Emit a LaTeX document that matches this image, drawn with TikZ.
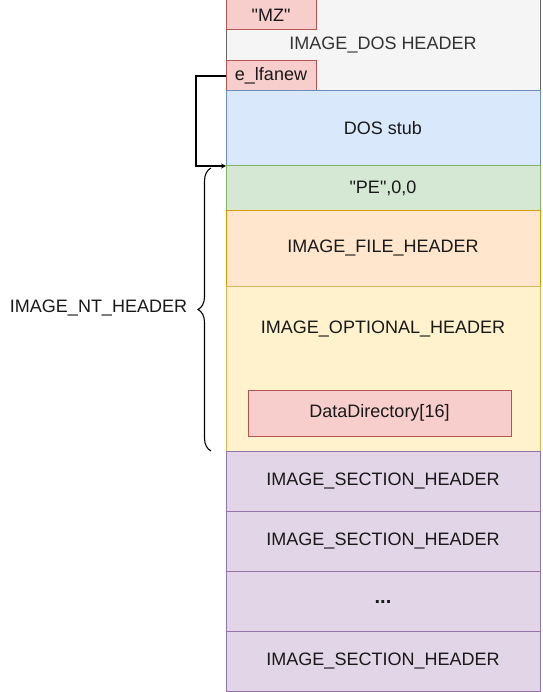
\documentclass[tikz,border=0pt]{standalone}
\usepackage{fontspec}
\setmainfont{Liberation Sans}[Ligatures=TeXOff]
\usetikzlibrary{positioning,decorations.pathreplacing}

\definecolor{dosfill}{HTML}{F5F5F5}
\definecolor{dosline}{HTML}{666666}
\definecolor{redfill}{HTML}{F8CECC}
\definecolor{redline}{HTML}{B85450}
\definecolor{bluefill}{HTML}{DAE8FC}
\definecolor{blueline}{HTML}{6C8EBF}
\definecolor{greenfill}{HTML}{D5E8D4}
\definecolor{greenline}{HTML}{82B366}
\definecolor{orangefill}{HTML}{FFE6CC}
\definecolor{orangeline}{HTML}{D79B00}
\definecolor{yellowfill}{HTML}{FFF2CC}
\definecolor{yellowline}{HTML}{D6B656}
\definecolor{purplefill}{HTML}{E1D5E7}
\definecolor{purpleline}{HTML}{9673A6}
\definecolor{textgrey}{HTML}{333333}

\begin{document}
\begin{tikzpicture}[x=1pt,y=1pt,font=\fontsize{18}{21}\selectfont]

    % Styles
    \tikzstyle{block} = [rectangle, minimum width=314pt, inner sep=0pt, outer sep=0pt, line width=1pt, text centered, text=black!90]
    \tikzstyle{field} = [rectangle, inner sep=0pt, outer sep=0pt, line width=1pt, text centered, draw=redline, fill=redfill, text=black!90]
    \tikzstyle{arrow} = [line width=1.2pt,->,>=stealth]
    \tikzset{section/.style={block, minimum height=60pt, draw=purpleline, fill=purplefill}}

    \useasboundingbox (0,0) rectangle (542,-692);

    % Noeuds
    \node (dos) [block, minimum height=91pt, draw=dosline, fill=dosfill, text=textgrey] at (383,-45.5) {IMAGE\_DOS HEADER};
    \node (mz) [field, minimum width=90pt, minimum height=30pt, anchor=north west] at (dos.north west) {"MZ"};
    \node (lfanew) [field, minimum width=90pt, minimum height=30pt, anchor=south west] at (dos.south west) {e\_lfanew};
    \node (stub) [block, minimum height=75pt, draw=blueline, fill=bluefill, below=0pt of dos] {DOS stub};
    \node (pe) [block, minimum height=45pt, draw=greenline, fill=greenfill, below=0pt of stub] {"PE",0,0};
    \node (file) [block, minimum height=75pt, draw=orangeline, fill=orangefill, below=0pt of pe] {IMAGE\_FILE\_HEADER};
    \node (opt) [block, minimum height=165pt, draw=yellowline, fill=yellowfill, below=0pt of file,
        label={[anchor=center, yshift=-43pt, text=black!90]north:IMAGE\_OPTIONAL\_HEADER}] {};
    \node (data) [field, minimum width=263pt, minimum height=46pt] at (379.5,-413) {DataDirectory[16]};
    \node (sec1) [section, below=0pt of opt] {IMAGE\_SECTION\_HEADER};
    \node (sec2) [section, below=0pt of sec1] {IMAGE\_SECTION\_HEADER};
    \node (dots) [section, below=0pt of sec2, font=\fontsize{20}{22}\selectfont\bfseries] {\raisebox{-5pt}{...}};
    \node (sec3) [section, below=0pt of dots] {IMAGE\_SECTION\_HEADER};
    \node (nt) [text=black!90] at (98.5,-308) {IMAGE\_NT\_HEADER};

    % Flèches
    \draw [arrow] (lfanew.west) -- ++(-30,0) |- (pe.north west);
    \draw [line width=1.1pt, decorate, decoration={brace, amplitude=13pt}]
        ([xshift=-15pt]opt.south west) -- ([xshift=-15pt, yshift=-2pt]pe.north west);

\end{tikzpicture}
\end{document}
